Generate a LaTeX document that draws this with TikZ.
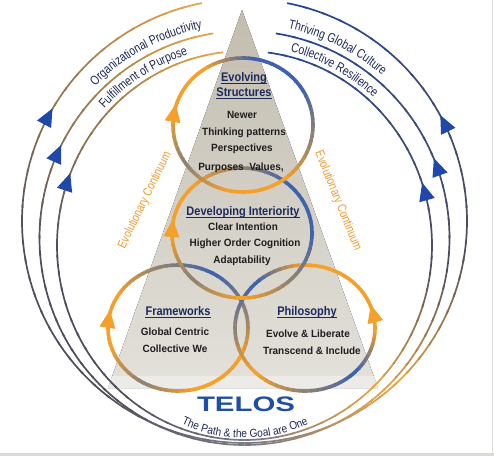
\documentclass[tikz,border=0pt]{standalone}
\usepackage{fontspec}
\setmainfont{Liberation Sans}
\newfontfamily\narrowfont[FakeStretch=0.88]{Liberation Sans}
\newfontfamily\slimfont[FakeStretch=0.8]{Liberation Sans}
\newfontfamily\bodyfont[FakeStretch=0.95]{Liberation Sans}
\newfontfamily\widefont[FakeStretch=1.4]{Liberation Sans}
\usetikzlibrary{calc,decorations.text}

\definecolor{ringorange}{HTML}{F5A02A}
\definecolor{ringblue}{HTML}{3F62AC}
\definecolor{ringgrey}{HTML}{8E8272}
\definecolor{loopgrey}{HTML}{7A7A86}
\definecolor{loopdark}{HTML}{4E4E5C}
\definecolor{looporange}{HTML}{E4A245}
\definecolor{loopblue}{HTML}{24469A}
\colorlet{looptan}{looporange!50!loopdark}
\colorlet{loopnavy}{loopblue!50!loopdark}
\definecolor{arrowblue}{HTML}{1F48A8}
\definecolor{navytext}{HTML}{1C2A5C}
\definecolor{bodyblack}{HTML}{1E1E1E}
\definecolor{telosblue}{HTML}{1E4FA5}
\definecolor{contorange}{HTML}{F29A2E}
\definecolor{trigtop}{HTML}{C3BDAF}
\definecolor{trigbottom}{HTML}{E3E1DB}
\definecolor{trigband}{HTML}{ECEBE7}
\definecolor{framegrey}{HTML}{DDDAD5}

% arco a sfumatura: centro, raggio x, raggio y, angolo iniziale, passo, coppie di colori
\newcommand\gradarc[6]{%
  \foreach \ca/\cb [count=\segn from 0] in {#6} {
    \foreach \kk in {0,...,8} {
      \pgfmathsetmacro\mixp{100*\kk/8}
      \pgfmathsetmacro\ang{#4+(\segn*9+\kk)*#5}
      \draw[color=\cb!\mixp!\ca] ($(#1)+(\ang:#2 and #3)$)
        arc[start angle=\ang, delta angle=1.2*#5, x radius=#2, y radius=#3];
    }
  }
}
% punta di freccia sull'arco: centro, raggio x, raggio y, angolo, verso (1/-1), colore
\newcommand\arrowon[6]{%
  \pgfmathsetmacro\tang{atan2(#5*#3*cos(#4), (0-#5)*#2*sin(#4))}
  \fill[#6, shift={($(#1)+(#4:#2 and #3)$)}, rotate=\tang]
    (9.5,0) -- (-8.5,8) -- (-8.5,-8) -- cycle;
}

\tikzset{
  ringline/.style={line width=3.6pt},
  loopline/.style={line width=1.7pt},
  headtext/.style={inner sep=0pt, anchor=base, text=navytext,
    font=\narrowfont\bfseries\fontsize{12.5}{14}\selectfont},
  bodytext/.style={inner sep=0pt, anchor=base, text=bodyblack,
    font=\bodyfont\bfseries\fontsize{10.5}{12}\selectfont},
  headrule/.style={navytext, line width=1.1pt},
  contlabel/.style={text=contorange, font=\slimfont\fontsize{12.5}{14}\selectfont},
  looptext/.style={decorate, decoration={text along path, text align=center,
    text={|\slimfont\fontsize{13}{15}\selectfont\color{navytext}|#1}}},
}

\begin{document}
\begin{tikzpicture}[x=1pt,y=1pt]
\useasboundingbox (0,0) rectangle (494,456);
% sfondo e cornice
\fill[white] (0,0) rectangle (494,456);
\fill[framegrey] (0,0) rectangle (494,3.5);
\draw[framegrey, line width=1pt] (492.5,0) -- (492.5,456);

% triangolo
\coordinate (apex) at (242,446);
\coordinate (baseL) at (108,68);
\coordinate (baseR) at (378,68);
\fill[top color=trigtop, bottom color=trigbottom] (apex) -- (baseL) -- (baseR) -- cycle;
\fill[trigband] (baseL) -- (baseR) -- (373.7,80) -- (112.3,80) -- cycle;

% anelli esterni
\coordinate (outerC) at (244.5,235);
\coordinate (middleC) at (244.5,218);
\coordinate (innerC) at (244.5,210.5);
\begin{scope}[loopline]
\gradarc{outerC}{222.5}{222}{270}{-4.667}{loopgrey/loopdark, loopdark/loopdark, loopdark/looptan, looptan/looporange}
\gradarc{middleC}{205}{207}{270}{-4.73}{loopgrey/loopdark, loopdark/loopdark, loopdark/looptan, looptan/looporange}
\gradarc{innerC}{187.5}{194.5}{270}{-4.79}{loopgrey/loopdark, loopdark/loopdark, loopdark/looptan, looptan/looporange}
\gradarc{outerC}{222.5}{222}{270}{4.667}{loopgrey/looporange, looporange/loopdark, loopdark/loopnavy, loopnavy/loopblue}
\gradarc{middleC}{205}{207}{270}{4.73}{loopgrey/looporange, looporange/loopdark, loopdark/loopnavy, loopnavy/loopblue}
\gradarc{innerC}{187.5}{194.5}{270}{4.775}{loopgrey/looporange, looporange/loopdark, loopdark/loopnavy, loopnavy/loopblue}
\end{scope}

% frecce blu
\arrowon{outerC}{222.5}{222}{152}{-1}{arrowblue}
\arrowon{middleC}{205}{207}{156}{-1}{arrowblue}
\arrowon{innerC}{187.5}{194.5}{161}{-1}{arrowblue}
\arrowon{outerC}{222.5}{222}{26}{1}{arrowblue}
\arrowon{middleC}{205}{207}{20}{1}{arrowblue}
\arrowon{innerC}{187.5}{194.5}{16}{1}{arrowblue}

% anelli interni
\coordinate (topC) at (243,331);
\coordinate (midC) at (242,223);
\coordinate (frameC) at (178,128);
\coordinate (philoC) at (305,128);
\begin{scope}[ringline]
\gradarc{frameC}{70}{63}{-30}{5}{ringorange/ringgrey, ringgrey/ringblue, ringblue/ringgrey, ringgrey/ringorange, ringorange/ringorange, ringorange/ringgrey, ringgrey/ringorange, ringorange/ringorange}
\gradarc{philoC}{70}{63}{0}{5}{ringorange/ringorange, ringorange/ringorange, ringorange/ringblue, ringblue/ringgrey, ringgrey/ringorange, ringorange/ringgrey, ringgrey/ringblue, ringblue/ringorange}
\gradarc{midC}{70}{65}{0}{5}{ringblue/ringblue, ringblue/ringgrey, ringgrey/ringorange, ringorange/ringorange, ringorange/ringgrey, ringgrey/ringorange, ringorange/ringgrey, ringgrey/ringblue}
\gradarc{topC}{70}{67}{-10}{5}{ringgrey/ringblue, ringblue/ringblue, ringblue/ringorange, ringorange/ringorange, ringorange/ringgrey, ringgrey/ringorange, ringorange/ringorange, ringorange/ringgrey}
\end{scope}

% frecce arancioni
\arrowon{topC}{70}{67}{170}{-1}{ringorange}
\arrowon{midC}{70}{65}{176}{-1}{ringorange}
\arrowon{frameC}{70}{63}{172}{-1}{ringorange}
\arrowon{philoC}{70}{63}{13}{1}{ringorange}

% testi degli anelli
\node[headtext] (evolving) at (244,374.5) {Evolving};
\node[headtext] (structures) at (244,359.5) {Structures};
\node[bodytext] (newer) at (242,337.5) {Newer};
\node[bodytext] (thinking) at (244,320.5) {Thinking patterns};
\node[bodytext] (perspectives) at (242,304.5) {Perspectives};
\node[bodytext] (purposes) at (241,285.5) {Purposes\ \ Values,};

\node[headtext] (developing) at (243,240.5) {Developing Interiority};
\node[bodytext] (clear) at (243,225.5) {Clear Intention};
\node[bodytext] (higher) at (245,209.5) {Higher Order Cognition};
\node[bodytext] (adapt) at (242,192.5) {Adaptability};

\node[headtext] (frameworks) at (178,140.5) {Frameworks};
\node[bodytext] (globalc) at (175,120.5) {Global Centric};
\node[bodytext] (collective) at (175,103.5) {Collective We};

\node[headtext] (philosophy) at (307,140.5) {Philosophy};
\node[bodytext] (evolve) at (308,118.5) {Evolve \& Liberate};
\node[bodytext] (transcend) at (312,101.5) {Transcend \& Include};

\foreach \h in {evolving,structures,developing,frameworks,philosophy}
  \draw[headrule] ([yshift=-2.2pt]\h.base west) -- ([yshift=-2.2pt]\h.base east);

% continuum
\node[contlabel, rotate=64] (contL) at (145,256) {Evolutionary Continuum};
\node[contlabel, rotate=-68] (contR) at (338,255) {Evolutionary Continuum};

% etichette sugli anelli esterni
\coordinate (labelA) at (244.5,222);
\coordinate (labelB) at (244.5,212);
\path[looptext={Organizational Productivity}] ($(labelA)+(138:210)$) arc[start angle=138, end angle=99, radius=210];
\path[looptext={Fulfillment of Purpose}] ($(labelB)+(141:192 and 198)$) arc[start angle=141, end angle=103, x radius=192, y radius=198];
\path[looptext={Thriving Global Culture}] ($(labelA)+(84:210)$) arc[start angle=84, end angle=43, radius=210];
\path[looptext={Collective Resilience}] ($(labelB)+(82:192 and 198)$) arc[start angle=82, end angle=42, x radius=192, y radius=198];

% telos
\node[text=telosblue, inner sep=0pt, font=\widefont\bfseries\fontsize{21}{24}\selectfont] (telos) at (246,51.5) {TELOS};
\coordinate (pathC) at (245,168);
\path[decorate, decoration={text along path, text align=center,
  text={|\narrowfont\fontsize{11.5}{13}\selectfont\color{navytext}|The Path {\&} the Goal are One}}]
  ($(pathC)+(235:150)$) arc[start angle=235, end angle=305, radius=150];

\end{tikzpicture}
\end{document}
